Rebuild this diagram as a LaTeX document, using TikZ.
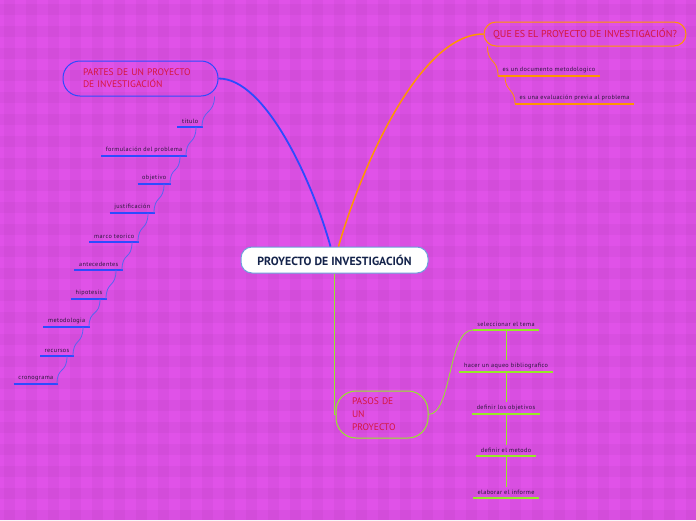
\documentclass[tikz,border=0pt]{standalone}
\usepackage{fontspec}
\setmainfont{PT Sans}
\newfontfamily\leaffont[LetterSpace=6]{PT Sans}
\definecolor{bgc}{RGB}{224,82,232}
\definecolor{redt}{RGB}{214,22,62}
\definecolor{leaft}{RGB}{40,22,58}
\definecolor{navy}{RGB}{20,35,75}
\definecolor{blueL}{RGB}{45,75,255}
\definecolor{blueT}{RGB}{90,100,240}
\definecolor{orangeL}{RGB}{255,150,0}
\definecolor{greenL}{RGB}{150,232,40}
\definecolor{cborder}{RGB}{110,160,220}
\tikzset{
  leaf/.style={inner xsep=4.5pt, inner ysep=3pt, text=leaft,
    font=\leaffont\fontsize{6.2}{7}\selectfont},
  bigbox/.style={rounded corners=#1, line width=1pt, text=redt,
    font=\fontsize{9.5}{12}\selectfont, align=left},
  uline/.style={line width=2pt, #1},
  thinc/.style={line width=0.8pt, #1},
}
\begin{document}
\begin{tikzpicture}[x=1pt,y=-1pt]
\useasboundingbox (0,0) rectangle (696,520);
\fill[bgc] (0,0) rectangle (696,520);
\foreach \i in {0,...,31} {
  \fill[black,opacity=0.028] (\i*22+4,0) rectangle ++(11,520);
}
\foreach \j in {0,...,23} {
  \fill[black,opacity=0.028] (0,\j*22+4) rectangle ++(696,11);
}

% main nodes
\node[draw=cborder, fill=white, rounded corners=11pt, line width=1pt,
  minimum width=187pt, minimum height=26pt, text=navy,
  font=\bfseries\fontsize{11.8}{13}\selectfont] (central) at (334.5,260) {PROYECTO DE INVESTIGACIÓN};
\node[bigbox=17pt, draw=blueL, minimum width=155pt, minimum height=35pt,
  text width=115pt, inner xsep=20pt] (partes) at (140.5,78.5)
  {PARTES DE UN PROYECTO\\DE INVESTIGACIÓN};
\node[bigbox=12pt, draw=orangeL, minimum width=202pt, minimum height=24pt,
  align=center, font=\fontsize{10}{12}\selectfont] (que) at (585,34) {QUE ES EL PROYECTO DE INVESTIGACIÓN?};
\node[bigbox=20pt, draw=greenL, minimum width=92pt, minimum height=47pt,
  text width=60pt, inner xsep=16pt, font=\fontsize{9.5}{13}\selectfont]
  (pasos) at (382,414.5) {PASOS DE\\UN\\PROYECTO};

% main connectors
\draw[blueL, line width=1.8pt] (partes.east) .. controls (265,78) and (312,180) .. ([xshift=-4pt]central.north);
\draw[orangeL, line width=1.5pt] ([xshift=4pt]central.north) .. controls (362,165) and (420,34) .. (que.west);
\draw[greenL, line width=1.8pt] (central.south) |- (pasos.west);

% left leaves
\node[leaf, anchor=south east] (l1) at (203,127) {titulo};
\node[leaf, anchor=south east] (l2) at (187,156) {formulación del problema};
\node[leaf, anchor=south east] (l3) at (171,184) {objetivo};
\node[leaf, anchor=south east] (l4) at (155,213) {justificación};
\node[leaf, anchor=south east] (l5) at (139,242) {marco teorico};
\node[leaf, anchor=south east] (l6) at (123,270) {antecedentes};
\node[leaf, anchor=south east] (l7) at (107,299) {hipotesis};
\node[leaf, anchor=south east] (l8) at (90,327) {metodologia};
\node[leaf, anchor=south east] (l9) at (74,356) {recursos};
\node[leaf, anchor=south east] (l10) at (58,384) {cronograma};
\foreach \k in {1,...,10} {
  \draw[uline=blueL] (l\k.south west) -- (l\k.south east);
}
\draw[thinc=blueT] ([xshift=-4pt]partes.south east) .. controls +(0,18) and +(0,-18) .. ([xshift=-1pt]l1.south east);
\foreach \a/\b in {1/2,2/3,3/4,4/5,5/6,6/7,7/8,8/9,9/10} {
  \draw[thinc=blueT] ([xshift=-7pt]l\a.south east) .. controls +(0,18) and +(0,-18) .. ([xshift=-1pt]l\b.south east);
}

% right-top leaves
\node[leaf, anchor=south west] (r1) at (498,76) {es un documento metodologico};
\node[leaf, anchor=south west] (r2) at (515,104) {es una evaluación previa al problema};
\draw[uline=orangeL] (r1.south west) -- (r1.south east);
\draw[uline=orangeL] (r2.south west) -- (r2.south east);
\draw[thinc=orangeL] ([xshift=4pt]que.south west) .. controls +(0,18) and +(0,-18) .. (r1.south west);
\draw[thinc=orangeL] ([xshift=7pt]r1.south west) .. controls +(0,16) and +(0,-16) .. (r2.south west);

% bottom-right leaves
\node[leaf, anchor=south] (g1) at (506,330) {seleccionar el tema};
\node[leaf, anchor=south] (g2) at (506,372) {hacer un aqueo bibliografico};
\node[leaf, anchor=south] (g3) at (506,414) {definir los objetivos};
\node[leaf, anchor=south] (g4) at (506,456) {definir el metodo};
\node[leaf, anchor=south] (g5) at (506,498) {elaborar el informe};
\foreach \k in {1,...,5} {
  \draw[uline=greenL] (g\k.south west) -- (g\k.south east);
}
\foreach \a/\b in {1/2,2/3,3/4,4/5} {
  \draw[thinc=greenL] (g\a.south) -- (g\b.north);
}
\draw[thinc=greenL] (pasos.east) .. controls (452,414) and (448,330) .. (g1.south west);
\end{tikzpicture}
\end{document}
